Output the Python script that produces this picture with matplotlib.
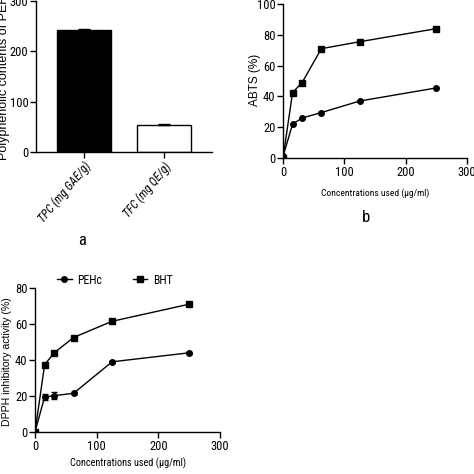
import matplotlib
matplotlib.use("Agg")
import matplotlib.pyplot as plt
from matplotlib import font_manager
import numpy as np

fam = 'Liberation Sans'
for cand in ['Liberation Sans Narrow', 'Arial Narrow', 'Roboto Condensed', 'Open Sans Condensed']:
    try:
        font_manager.findfont(cand, fallback_to_default=False)
        fam = cand
        break
    except Exception:
        pass
plt.rcParams['font.family'] = [fam, 'Liberation Sans', 'DejaVu Sans']
narrow = fam != 'Liberation Sans'
k = 1.0 if narrow else 0.88
VFAM = ['Liberation Sans', 'DejaVu Sans']

# Panel a data
bar_labels = ["TPC (mg GAE/g)", "TFC (mg QE/g)"]
bar_values = [243, 54]
bar_errors = [1.5, 1.0]

# Panel b data (ABTS)
conc = [0, 15.625, 31.25, 62.5, 125, 250]
abts_pehc = [1, 22, 26, 29.5, 37, 45.5]
abts_bht = [0, 42.5, 49, 71, 75.5, 84]

# Panel c data (DPPH)
dpph_pehc = [0, 19.5, 20.2, 21.5, 39, 44]
dpph_pehc_err = [0, 1.8, 1.8, 0.5, 0.5, 0.5]
dpph_bht = [0, 37.5, 44, 52.5, 61.5, 71]

W = 474.0
fig = plt.figure(figsize=(4.74, 4.74), dpi=100)

def style(ax):
    for s in ['top', 'right']:
        ax.spines[s].set_visible(False)
    for s in ['left', 'bottom']:
        ax.spines[s].set_linewidth(1.0)
    ax.tick_params(direction='out', length=4, width=1.0, labelsize=9 * k, pad=1.5)

# Panel a
axa = fig.add_axes([36/W, 1-152/W, (212-36)/W, (152-1)/W])
style(axa)
axa.bar([0, 1], bar_values, width=0.68, color=['black', 'white'], edgecolor='black', linewidth=1.0,
        yerr=bar_errors, capsize=4, error_kw=dict(elinewidth=1, capthick=1))
axa.set_xlim(-0.6, 1.6)
axa.set_ylim(0, 300)
axa.set_yticks([0, 100, 200, 300])
axa.set_xticks([0, 1])
axa.set_xticklabels(bar_labels, rotation=50, ha='right', rotation_mode='anchor',
                    fontsize=8.5 * k, style='italic')
fig.text(4/W, 1-160/W, "Polyphenolic contents of PEHc", rotation=90, ha='center', va='bottom',
         fontsize=9, family=VFAM)
fig.text(82/W, 1-240/W, "a", ha='center', va='center', fontsize=12)

# Panel b
axb = fig.add_axes([283/W, 1-158/W, (467-283)/W, (158-4)/W])
style(axb)
axb.plot(conc, abts_pehc, '-o', color='black', lw=1.0, ms=4)
axb.plot(conc, abts_bht, '-s', color='black', lw=1.0, ms=4.5)
axb.set_xlim(0, 300)
axb.set_ylim(0, 100)
axb.set_xticks([0, 100, 200, 300])
axb.set_yticks([0, 20, 40, 60, 80, 100])
fig.text(255/W, 1-80/W, "ABTS (%)", rotation=90, ha='center', va='center', fontsize=8.5, family=VFAM)
fig.text(375/W, 1-193/W, "Concentrations used (\u00b5g/ml)", ha='center', va='center', fontsize=6.8 * k)
fig.text(366/W, 1-218/W, "b", ha='center', va='center', fontsize=12)

# Panel c
axc = fig.add_axes([35/W, 1-432/W, (220-35)/W, (432-288)/W])
style(axc)
lp, = axc.plot(conc, dpph_pehc, '-o', color='black', lw=1.0, ms=4)
axc.errorbar(conc, dpph_pehc, yerr=dpph_pehc_err, fmt='none', ecolor='black', elinewidth=1, capsize=2.5)
lb, = axc.plot(conc, dpph_bht, '-s', color='black', lw=1.0, ms=4.5)
axc.set_xlim(0, 300)
axc.set_ylim(0, 80)
axc.set_xticks([0, 100, 200, 300])
axc.set_yticks([0, 20, 40, 60, 80])
fig.text(7/W, 1-362/W, "DPPH inhibitory activity (%)", rotation=90, ha='center', va='center',
         fontsize=7.6, family=VFAM)
fig.text(128/W, 1-463/W, "Concentrations used (\u00b5g/ml)", ha='center', va='center', fontsize=7.4 * k)
fig.legend([lp, lb], ["PEHc", "BHT"], loc='center', bbox_to_anchor=(115/W, 1-280/W), ncol=2,
           frameon=False, fontsize=8.5 * k, handlelength=1.2, columnspacing=2.6, handletextpad=0.5)

fig.savefig("out.png", dpi=100)
